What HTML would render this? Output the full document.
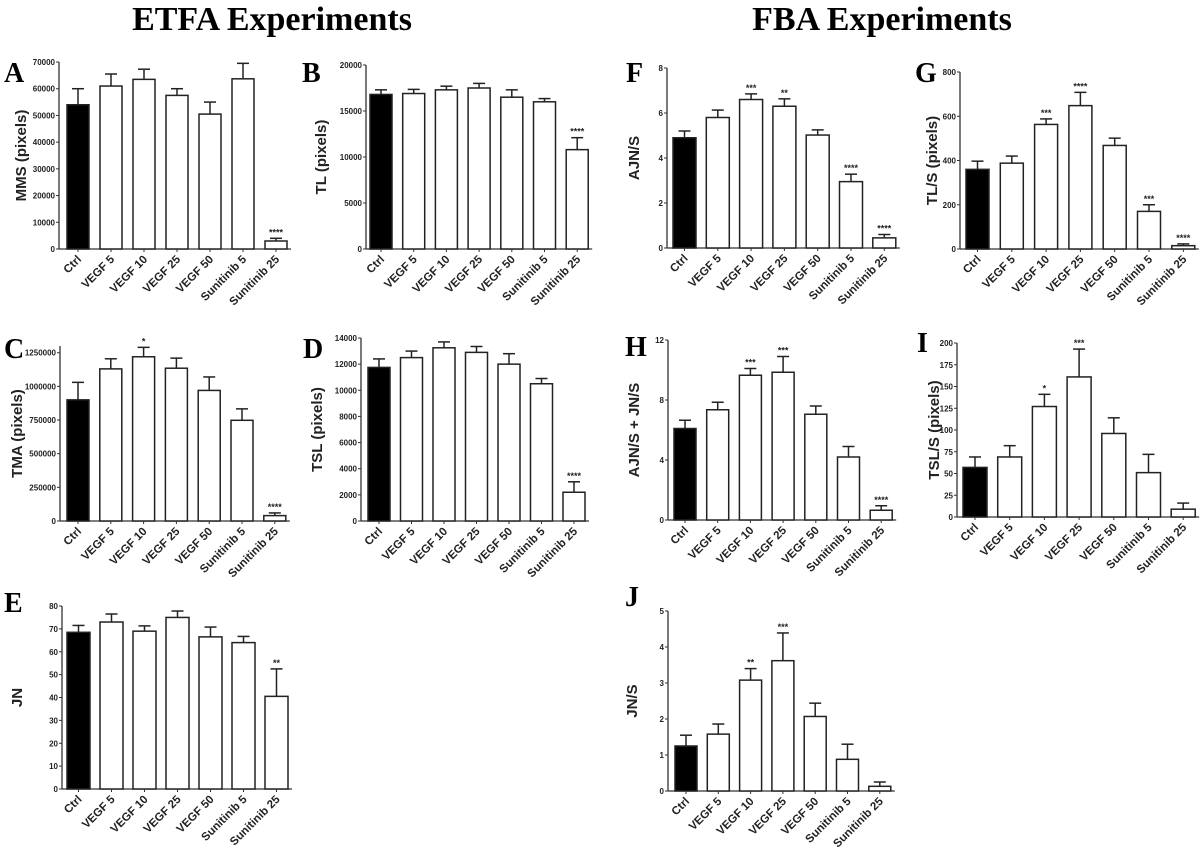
<!DOCTYPE html>
<html><head><meta charset="utf-8"><style>
body{margin:0;background:#fff;width:1200px;height:850px;overflow:hidden}
svg{display:block}
.t{font-family:"Liberation Serif",serif;font-weight:bold}
.s{font-family:"Liberation Sans",sans-serif;font-weight:bold;fill:#222}
</style></head><body>
<svg id="fig" width="1200" height="850" viewBox="0 0 1200 850">
<text class="t" x="272" y="30" font-size="34" text-anchor="middle">ETFA Experiments</text>
<text class="t" x="882" y="30" font-size="34" text-anchor="middle">FBA Experiments</text>
</svg>
<script>
const categories=["Ctrl","VEGF 5","VEGF 10","VEGF 25","VEGF 50","Sunitinib 5","Sunitinib 25"];
const aMeans=[54000,61000,63500,57500,50500,63700,3000];
const aErr=[6000,4500,3800,2500,4500,5800,1000];
const aStars=["","","","","","","****"];
const bMeans=[16800,16900,17300,17500,16500,16000,10800];
const bErr=[500,450,400,500,800,350,1300];
const bStars=["","","","","","","****"];
const cMeans=[900000,1130000,1220000,1135000,970000,748000,40000];
const cErr=[130000,75000,70000,75000,100000,85000,20000];
const cStars=["","","*","","","","****"];
const dMeans=[11750,12500,13250,12900,12000,10500,2200];
const dErr=[650,500,450,450,800,400,800];
const dStars=["","","","","","","****"];
const eMeans=[68.5,73,69,75,66.5,64,40.5];
const eErr=[3,3.5,2.3,2.8,4.3,2.7,12];
const eStars=["","","","","","","**"];
const fMeans=[4.9,5.8,6.6,6.3,5.02,2.95,0.45];
const fErr=[0.3,0.33,0.25,0.33,0.23,0.33,0.15];
const fStars=["","","***","**","","****","****"];
const gMeans=[360,388,563,648,468,170,15];
const gErr=[37,32,25,60,33,30,8];
const gStars=["","","***","****","","***","****"];
const hMeans=[6.1,7.35,9.65,9.85,7.05,4.2,0.65];
const hErr=[0.55,0.5,0.45,1.05,0.55,0.7,0.3];
const hStars=["","","***","***","","","****"];
const iMeans=[57,69,127,161,96,51,9];
const iErr=[12,13,14,32,18,21,7];
const iStars=["","","*","***","","",""];
const jMeans=[1.25,1.58,3.08,3.62,2.07,0.88,0.13];
const jErr=[0.3,0.28,0.32,0.77,0.37,0.42,0.12];
const jStars=["","","**","***","","",""];

const NS="http://www.w3.org/2000/svg";
const svg=document.getElementById('fig');
function mk(tag,attrs,parent){const e=document.createElementNS(NS,tag);for(const k in attrs)e.setAttribute(k,attrs[k]);(parent||svg).appendChild(e);return e;}

const panels=[
 {id:'a',L:'A',lx:4,ly:82,title:'MMS (pixels)',tx:22,ax:59,top:62,bot:249,x0:67,pitch:33,bw:22,max:70000,step:10000,tmax:70000,m:aMeans,e:aErr,s:aStars},
 {id:'b',L:'B',lx:302,ly:82,title:'TL (pixels)',tx:322,ax:366,top:65,bot:249,x0:370,pitch:32.7,bw:22,max:20000,step:5000,tmax:20000,m:bMeans,e:bErr,s:bStars},
 {id:'c',L:'C',lx:4,ly:358,title:'TMA (pixels)',tx:18,ax:60,top:346,bot:521,x0:67,pitch:32.8,bw:22,max:1300000,step:250000,tmax:1250000,m:cMeans,e:cErr,s:cStars},
 {id:'d',L:'D',lx:303,ly:358,title:'TSL (pixels)',tx:318,ax:361,top:338,bot:521,x0:368,pitch:32.5,bw:22,max:14000,step:2000,tmax:14000,m:dMeans,e:dErr,s:dStars},
 {id:'e',L:'E',lx:4,ly:612,title:'JN',tx:18,ax:62,top:606,bot:789,x0:67,pitch:33,bw:23,max:80,step:10,tmax:80,m:eMeans,e:eErr,s:eStars},
 {id:'f',L:'F',lx:626,ly:82,title:'AJN/S',tx:635,ax:667,top:68,bot:248,x0:673,pitch:33.3,bw:23,max:8,step:2,tmax:8,m:fMeans,e:fErr,s:fStars},
 {id:'g',L:'G',lx:915,ly:82,title:'TL/S (pixels)',tx:933,ax:960,top:72,bot:249,x0:966,pitch:34.3,bw:23,max:800,step:200,tmax:800,m:gMeans,e:gErr,s:gStars},
 {id:'h',L:'H',lx:625,ly:356,title:'AJN/S + JN/S',tx:635,ax:668,top:340,bot:520,x0:674,pitch:32.7,bw:22,max:12,step:4,tmax:12,m:hMeans,e:hErr,s:hStars},
 {id:'i',L:'I',lx:917,ly:352,title:'TSL/S (pixels)',tx:935,ax:957,top:343,bot:517,x0:963,pitch:34.7,bw:24,max:200,step:25,tmax:200,m:iMeans,e:iErr,s:iStars},
 {id:'j',L:'J',lx:625,ly:606,title:'JN/S',tx:633,ax:668,top:611,bot:791,x0:675,pitch:32.3,bw:22,max:5,step:1,tmax:5,m:jMeans,e:jErr,s:jStars}
];

panels.forEach(p=>{
 const g=mk('g',{});
 
 
 const y=v=>p.bot-(v/p.max)*(p.bot-p.top);
 const lt=mk('text',{x:p.lx,y:p.ly,'font-size':28,class:'t'},g);lt.textContent=p.L;
 
 
 const cy=(p.top+p.bot)/2;
 const yt=mk('text',{x:p.tx,y:cy,'font-size':15,class:'s','text-anchor':'middle',transform:`rotate(-90 ${p.tx} ${cy})`,'dominant-baseline':'middle'},g);yt.textContent=p.title;
 
 
 const right=p.x0+6*p.pitch+p.bw+4;
 const ya=mk('line',{x1:p.ax,y1:p.top,x2:p.ax,y2:p.bot,stroke:'#333','stroke-width':1.3},g);
 
 
 const xa=mk('line',{x1:p.ax,y1:p.bot,x2:right,y2:p.bot,stroke:'#333','stroke-width':1.3},g);
 
 
 for(let v=0;v<=p.tmax+1e-9;v+=p.step){
  mk('line',{x1:p.ax-3,y1:y(v),x2:p.ax,y2:y(v),stroke:'#333','stroke-width':1},g);
  const tl=mk('text',{x:p.ax-4,y:y(v)+3,'font-size':8,class:'s','text-anchor':'end'},g);tl.textContent=String(+v.toFixed(3));
  
  
 }
 categories.forEach((c,i)=>{
  const bx=p.x0+i*p.pitch, cx=bx+p.bw/2;
  const yv=y(p.m[i]), ye=y(p.m[i]+p.e[i]);
  mk('line',{x1:cx,y1:yv,x2:cx,y2:ye,stroke:'#222','stroke-width':1.5},g);
  mk('line',{x1:cx-6,y1:ye,x2:cx+6,y2:ye,stroke:'#222','stroke-width':1.5},g);
  const r=mk('rect',{x:bx,y:yv,width:p.bw,height:p.bot-yv,fill:i===0?'#000':'#fff',stroke:'#222','stroke-width':1.5},g);
  
  
  mk('line',{x1:cx,y1:p.bot,x2:cx,y2:p.bot+3,stroke:'#333','stroke-width':1},g);
  if(p.s[i]){const st=mk('text',{x:cx,y:ye-3,'font-size':9,class:'s','text-anchor':'middle'},g);st.textContent=p.s[i];
   
   }
  const xl=mk('text',{x:cx+4,y:p.bot+11,'font-size':11.5,class:'s','text-anchor':'end',transform:`rotate(-45 ${cx+4} ${p.bot+11})`},g);xl.textContent=c;
  
  
 });
});
</script>
</body></html>
